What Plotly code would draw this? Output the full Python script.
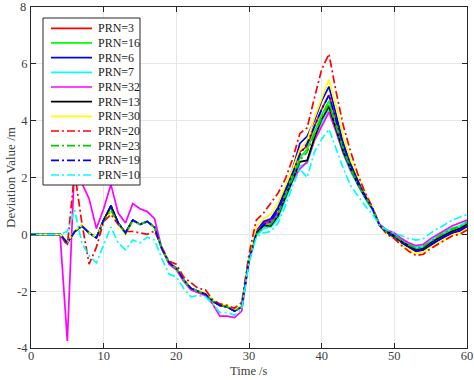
import plotly.graph_objects as go

time_s = list(range(0, 61))

prn3 = [0, 0, 0, 0, 0, -0.3, 0.1, 0.3, 0.05, -0.12, 0.5, 0.95, 0.4, 0.05, 0.48, 0.35, 0.45, 0.25, -0.5, -1.0,
        -1.2, -1.6, -1.9, -2.0, -2.1, -2.35, -2.5, -2.55, -2.7, -2.55, -0.9, 0.1, 0.4, 0.5, 0.9, 1.5, 2.2, 2.9, 3.1, 3.8,
        4.4, 4.9, 4.0, 3.1, 2.45, 1.85, 1.35, 0.9, 0.3, 0.05, -0.1, -0.3, -0.45, -0.6, -0.55, -0.38, -0.22, -0.08, 0.05, 0.12, 0.28]
prn16 = [0, 0, 0, 0, 0, -0.3, 0.1, 0.3, 0.05, -0.12, 0.5, 1.0, 0.4, 0.05, 0.5, 0.35, 0.45, 0.25, -0.5, -1.0,
         -1.2, -1.6, -1.9, -2.0, -2.1, -2.35, -2.5, -2.55, -2.7, -2.55, -0.95, 0.0, 0.3, 0.4, 0.75, 1.4, 2.05, 2.7, 3.0, 3.6,
         4.2, 4.7, 3.85, 3.0, 2.35, 1.8, 1.3, 0.9, 0.3, 0.08, -0.05, -0.22, -0.38, -0.5, -0.45, -0.27, -0.1, 0.05, 0.18, 0.25, 0.4]
prn6 = [0, 0, 0, 0, 0, -0.3, 0.1, 0.3, 0.05, -0.12, 0.5, 1.0, 0.4, 0.05, 0.5, 0.35, 0.45, 0.25, -0.5, -1.0,
        -1.2, -1.6, -1.9, -2.0, -2.1, -2.35, -2.5, -2.55, -2.7, -2.55, -0.9, 0.1, 0.45, 0.55, 0.95, 1.6, 2.3, 3.2, 3.45, 4.0,
        4.7, 5.2, 4.2, 3.2, 2.5, 1.9, 1.35, 0.9, 0.3, 0.05, -0.1, -0.3, -0.45, -0.6, -0.55, -0.38, -0.22, -0.08, 0.05, 0.12, 0.28]
prn7 = [0, 0, 0, 0, 0, -0.3, 0.1, 0.3, 0.05, -0.12, 0.5, 0.98, 0.4, 0.05, 0.5, 0.35, 0.45, 0.25, -0.5, -1.0,
        -1.2, -1.6, -1.9, -2.0, -2.1, -2.35, -2.5, -2.55, -2.7, -2.55, -0.95, -0.05, 0.2, 0.25, 0.55, 1.2, 1.85, 2.4, 2.5, 3.3,
        3.95, 4.4, 3.6, 2.8, 2.2, 1.7, 1.25, 0.85, 0.3, 0.1, 0.0, -0.18, -0.32, -0.45, -0.4, -0.22, -0.05, 0.1, 0.22, 0.3, 0.45]
prn32 = [0, 0, 0, 0, 0, -3.75, 2.5, 1.8, 1.25, 0.2, 0.9, 1.75, 0.75, 0.4, 1.08, 0.9, 0.8, 0.55, -0.5, -1.05,
         -1.25, -1.65, -1.95, -2.05, -2.15, -2.45, -2.88, -2.88, -2.93, -2.7, -0.9, 0.1, 0.35, 0.45, 0.75, 1.35, 1.9, 2.3, 2.55, 3.3,
         3.8, 4.3, 3.6, 2.85, 2.25, 1.75, 1.3, 0.9, 0.35, 0.15, 0.05, -0.15, -0.3, -0.4, -0.35, -0.15, 0.0, 0.15, 0.3, 0.4, 0.5]
prn13 = [0, 0, 0, 0, 0, -0.3, 0.1, 0.3, 0.05, -0.12, 0.5, 1.0, 0.4, 0.05, 0.5, 0.35, 0.45, 0.25, -0.5, -1.0,
         -1.2, -1.6, -1.9, -2.0, -2.1, -2.35, -2.5, -2.55, -2.7, -2.55, -0.9, 0.05, 0.3, 0.3, 0.65, 1.3, 1.95, 2.55, 2.6, 3.4,
         4.05, 4.5, 3.7, 2.9, 2.3, 1.75, 1.3, 0.9, 0.3, 0.1, -0.05, -0.25, -0.4, -0.55, -0.5, -0.3, -0.15, 0.0, 0.12, 0.2, 0.35]
prn30 = [0, 0, 0, 0, 0, -0.28, 0.12, 0.32, 0.05, -0.1, 0.45, 0.8, 0.35, 0.0, 0.45, 0.35, 0.45, 0.25, -0.5, -1.0,
         -1.2, -1.6, -1.9, -2.0, -2.05, -2.3, -2.45, -2.5, -2.65, -2.5, -0.85, 0.25, 0.55, 0.7, 1.1, 1.7, 2.3, 3.0, 3.3, 4.1,
         4.8, 5.45, 4.5, 3.4, 2.6, 2.0, 1.45, 0.95, 0.3, 0.0, -0.15, -0.35, -0.55, -0.68, -0.62, -0.45, -0.3, -0.15, -0.02, 0.05, 0.2]
prn20 = [0, 0, 0, 0, 0, -0.4, 2.2, 0.4, -1.05, -0.45, 0.45, 0.7, 0.35, 0.1, 0.1, 0.05, 0.0, 0.12, -0.45, -0.95,
         -1.05, -1.5, -1.7, -1.9, -1.95, -2.3, -2.45, -2.5, -2.6, -2.4, -0.7, 0.5, 0.75, 1.1, 1.45, 1.95, 2.65, 3.55, 3.75, 4.8,
         5.8, 6.35, 5.0, 3.8, 2.9, 2.1, 1.45, 0.95, 0.3, 0.0, -0.15, -0.4, -0.6, -0.75, -0.7, -0.5, -0.35, -0.2, -0.05, 0.0, 0.15]
prn23 = [0, 0, 0, 0, 0, -0.3, 0.1, 0.28, 0.05, -0.1, 0.48, 0.85, 0.4, 0.02, 0.48, 0.35, 0.45, 0.25, -0.5, -1.0,
         -1.2, -1.6, -1.9, -2.0, -2.1, -2.35, -2.5, -2.55, -2.7, -2.55, -0.95, 0.0, 0.25, 0.35, 0.7, 1.35, 2.0, 2.6, 2.9, 3.5,
         4.1, 4.6, 3.8, 2.95, 2.3, 1.75, 1.3, 0.88, 0.3, 0.07, -0.05, -0.22, -0.38, -0.48, -0.43, -0.25, -0.08, 0.07, 0.2, 0.27, 0.42]
prn19 = [0, 0, 0, 0, 0, -0.3, 0.1, 0.3, 0.05, -0.12, 0.5, 1.0, 0.4, 0.05, 0.5, 0.35, 0.45, 0.25, -0.5, -1.0,
         -1.2, -1.6, -1.9, -2.0, -2.1, -2.35, -2.5, -2.55, -2.7, -2.55, -0.9, 0.05, 0.35, 0.45, 0.85, 1.5, 2.15, 2.8, 3.2, 3.8,
         4.4, 4.9, 4.0, 3.1, 2.45, 1.85, 1.35, 0.9, 0.3, 0.05, -0.1, -0.3, -0.45, -0.58, -0.52, -0.35, -0.2, -0.05, 0.08, 0.15, 0.3]
prn10 = [0, 0, 0, 0, 0, 0.1, 0.85, -0.3, -0.75, -1.0, -0.35, 0.25, -0.3, -0.55, -0.2, -0.3, -0.1, -0.2, -0.85, -1.4,
         -1.5, -1.9, -2.2, -2.15, -2.2, -2.45, -2.75, -2.75, -2.85, -2.65, -1.0, -0.1, 0.05, 0.1, 0.4, 1.0, 1.7, 2.3, 2.0, 2.9,
         3.35, 3.7, 3.0, 2.3, 1.7, 1.35, 1.0, 0.7, 0.3, 0.15, 0.05, -0.05, -0.15, -0.2, -0.15, 0.05, 0.2, 0.35, 0.5, 0.6, 0.7]

x_ticks = [0, 10, 20, 30, 40, 50, 60]
y_ticks = [-4, -2, 0, 2, 4, 6]
y_top_tick = 8
x_title = "Time /s"
y_title = "Deviation Value /m"

DASHDOT = "8px,3px,2px,3px"
series = [
    ("PRN=3", prn3, "#ff0000", "solid"),
    ("PRN=16", prn16, "#00ff00", "solid"),
    ("PRN=6", prn6, "#0000ff", "solid"),
    ("PRN=7", prn7, "#00ffff", "solid"),
    ("PRN=32", prn32, "#ff00ff", "solid"),
    ("PRN=13", prn13, "#000000", "solid"),
    ("PRN=30", prn30, "#ffff00", "solid"),
    ("PRN=20", prn20, "#ff0000", DASHDOT),
    ("PRN=23", prn23, "#00cc00", DASHDOT),
    ("PRN=19", prn19, "#0000ff", DASHDOT),
    ("PRN=10", prn10, "#00ffff", DASHDOT),
]

fig = go.Figure()
for name, vals, color, dash in series:
    fig.add_trace(go.Scatter(x=time_s, y=vals, mode="lines", name=name, showlegend=False,
                             line=dict(color=color, width=1.7, dash=dash)))

font_family = "Liberation Serif, Times New Roman, serif"
axis_common = dict(showline=True, linecolor="#262626", linewidth=1, mirror="ticks",
                   ticks="inside", ticklen=5, tickcolor="#262626", automargin=False,
                   ticklabeloverflow="allow",
                   showgrid=True, gridcolor="#e6e6e6", gridwidth=1, zeroline=False,
                   tickfont=dict(family=font_family, size=12.5, color="#404040"))

# Plot area in pixels
L, R, T, B = 31, 467, 7, 348
W, H = 474, 380


def px_x(p):
    return (p - L) / (R - L)


def px_y(p):
    return (B - p) / (B - T)


shapes = []
annotations = []
# legend box
shapes.append(dict(type="rect", xref="paper", yref="paper",
                   x0=px_x(43), x1=px_x(140), y0=px_y(185), y1=px_y(18),
                   line=dict(color="#262626", width=1), fillcolor="white", layer="above"))
for i, (name, vals, color, dash) in enumerate(series):
    yc = 28.3 + 14.67 * i
    shapes.append(dict(type="line", xref="paper", yref="paper",
                       x0=px_x(51), x1=px_x(92), y0=px_y(yc), y1=px_y(yc),
                       line=dict(color=color, width=1.7, dash=dash), layer="above"))
    annotations.append(dict(text=name, xref="paper", yref="paper", x=px_x(96), y=px_y(yc),
                            xanchor="left", yanchor="middle", showarrow=False,
                            font=dict(family=font_family, size=12, color="#1a1a1a")))

# top y tick label (placed on the y axis scale)
annotations.append(dict(text=str(y_top_tick), xref="paper", yref="y", x=px_x(27.5), y=y_top_tick,
                        xanchor="right", yanchor="middle", showarrow=False,
                        font=dict(family=font_family, size=12.5, color="#404040")))

# axis titles
annotations.append(dict(text=x_title, xref="paper", yref="paper", x=0.5, y=px_y(380),
                        xanchor="center", yanchor="bottom", showarrow=False,
                        font=dict(family=font_family, size=12.5, color="#404040")))
annotations.append(dict(text=y_title, xref="paper", yref="paper", x=px_x(1), y=0.5,
                        xanchor="left", yanchor="middle", showarrow=False, textangle=-90,
                        font=dict(family=font_family, size=13, color="#404040")))

fig.update_layout(
    width=W, height=H,
    margin=dict(l=L, r=W - R, t=T, b=H - B),
    paper_bgcolor="white", plot_bgcolor="white",
    font=dict(family=font_family, size=13, color="#404040"),
    xaxis=dict(range=[0, 60], tickvals=x_ticks, ticklabelstandoff=-4, **axis_common),
    yaxis=dict(range=[-4, 8], tickvals=y_ticks + [y_top_tick], ticktext=[str(v) for v in y_ticks] + [""],
               **axis_common),
    shapes=shapes,
    annotations=annotations,
    showlegend=False,
)

fig.write_html("out.html", config={"displayModeBar": False},
               post_script="document.body.style.margin='0px';document.body.style.overflow='hidden';")
